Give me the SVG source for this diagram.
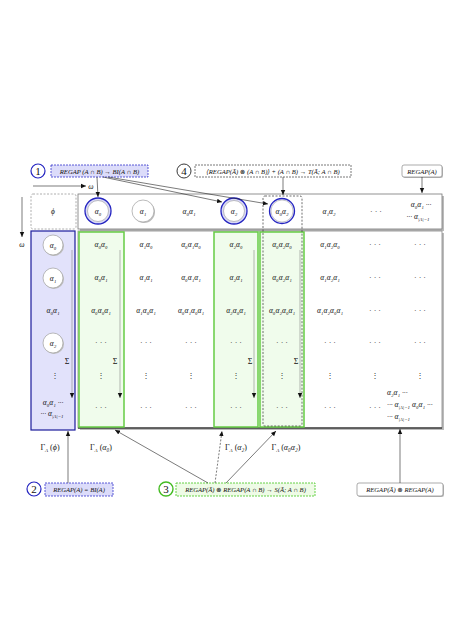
<svg xmlns="http://www.w3.org/2000/svg" width="467" height="638" viewBox="0 0 467 638">
<style>
.m{font-family:"Liberation Serif","DejaVu Serif",serif;font-style:italic;font-size:7.5px;text-anchor:middle;fill:#111}
.s{font-size:5px}
.lbl{font-family:"Liberation Serif","DejaVu Serif",serif;font-style:italic;font-size:6.6px;text-anchor:middle;fill:#111}
.num{font-family:"Liberation Serif","DejaVu Serif",serif;font-size:11px;text-anchor:middle;fill:#111}
.dots{font-family:"Liberation Serif","DejaVu Serif",serif;font-size:8px;text-anchor:middle;fill:#333}
.g{font-family:"Liberation Serif","DejaVu Serif",serif;font-size:8px;text-anchor:middle;fill:#111}
.green{fill:#f0fcec;stroke:#66cc44;stroke-width:1.5}
.bluec{fill:#d9d9f7;stroke:#2424c0;stroke-width:1.3}
.wc{fill:#fff;stroke:#aaa;stroke-width:0.8}
.sh{fill:#bbb}
.ar{stroke:#222;stroke-width:0.6;fill:none;marker-end:url(#ah)}
.arg{stroke:#888;stroke-width:0.6;fill:none;marker-end:url(#ah)}
</style>
<defs>
<marker id="ah" markerWidth="6" markerHeight="6" refX="5" refY="3" orient="auto" markerUnits="userSpaceOnUse">
<path d="M0,0.8 L5,3 L0,5.2 z" fill="#111"/>
</marker>
</defs>
<rect width="467" height="638" fill="#fff"/>

<g id="header">
<rect x="80" y="196" width="364" height="35" class="sh"/>
<rect x="78" y="194" width="364" height="35" fill="#fff" stroke="#777" stroke-width="0.8"/>
</g>
<g id="phi">
<rect x="31" y="194" width="45" height="35" fill="#fff" stroke="#999" stroke-width="0.8" stroke-dasharray="2,1.5" rx="2"/>
<text class="m" x="53" y="214">ϕ</text>
</g>
<g id="grid">
<rect x="80" y="233" width="364" height="197" class="sh"/>
<rect x="78" y="231" width="364" height="197" fill="#fff" stroke="#888" stroke-width="0.8"/>
<line x1="78" y1="428" x2="442" y2="428" stroke="#444" stroke-width="1.4"/>
</g>
<g id="col-phi">
<rect x="31" y="231" width="44" height="199" fill="#e2e2fb" stroke="#1c1c9c" stroke-width="1.2"/>
</g>
<g id="col-a0"><rect x="79" y="232" width="45" height="195" class="green"/></g>
<g id="col-a2"><rect x="214" y="232" width="44" height="195" class="green"/></g>
<g id="col-a0a2"><rect x="260" y="232" width="44" height="195" class="green"/>
<rect x="263" y="196" width="39" height="230" fill="none" stroke="#333" stroke-width="0.7" stroke-dasharray="2,1.5" rx="2"/></g>

<g id="header-cells">
<circle cx="98" cy="211" r="13" class="bluec"/><circle cx="98" cy="211" r="10.5" fill="#fff" stroke="#999" stroke-width="0.6"/>
<text class="m" x="98" y="214">α₀</text>
<circle cx="144" cy="212" r="11" class="sh"/><circle cx="143" cy="211" r="11" class="wc"/>
<text class="m" x="143" y="214">α₁</text>
<text class="m" x="189" y="214">α₀α₁</text>
<circle cx="234" cy="211" r="13" class="bluec"/><circle cx="234" cy="211" r="10.5" fill="#fff" stroke="#999" stroke-width="0.6"/>
<text class="m" x="234" y="214">α₂</text>
<circle cx="282" cy="211" r="12.5" class="bluec"/><circle cx="282" cy="211" r="11" fill="#fff" stroke="#999" stroke-width="0.5"/>
<text class="m" x="282" y="214">α₀α₂</text>
<text class="m" x="329" y="214">α₁α₂</text>
<text class="dots" x="376" y="214">· · ·</text>
<text class="m" x="421" y="207">α₀α₁ ···</text>
<text class="m" x="418" y="219">··· α<tspan class="s" dy="2">|A|−1</tspan></text>
</g>

<g id="phi-cells">
<circle cx="54" cy="246" r="10" class="sh"/><circle cx="53" cy="245" r="10" class="wc"/><text class="m" x="53" y="248">α₀</text>
<circle cx="54" cy="279" r="10" class="sh"/><circle cx="53" cy="278" r="10" class="wc"/><text class="m" x="53" y="281">α₁</text>
<text class="m" x="53" y="313">α₀α₁</text>
<circle cx="54" cy="344" r="10" class="sh"/><circle cx="53" cy="343" r="10" class="wc"/><text class="m" x="53" y="346">α₂</text>
<text class="dots" x="55" y="378" fill="#777">⋮</text>
<text class="m" x="53" y="405">α₀α₁ ···</text>
<text class="m" x="52" y="416">··· α<tspan class="s" dy="2">|A|−1</tspan></text>
</g>

<g id="cells" class="m">
<text x="101" y="247">α₀α₀</text><text x="146" y="247">α₁α₀</text><text x="191" y="247">α₀α₁α₀</text><text x="236" y="247">α₂α₀</text><text x="282" y="247">α₀α₂α₀</text><text x="330" y="247">α₁α₂α₀</text>
<text x="101" y="280">α₀α₁</text><text x="146" y="280">α₁α₁</text><text x="191" y="280">α₀α₁α₁</text><text x="236" y="280">α₂α₁</text><text x="282" y="280">α₀α₂α₁</text><text x="330" y="280">α₁α₂α₁</text>
<text x="101" y="313">α₀α₀α₁</text><text x="146" y="313">α₁α₀α₁</text><text x="191" y="313">α₀α₁α₀α₁</text><text x="236" y="313">α₂α₀α₁</text><text x="282" y="313">α₀α₂α₀α₁</text><text x="330" y="313">α₁α₂α₀α₁</text>
</g>
<g id="dots" class="dots">
<text x="375" y="247">· · ·</text><text x="420" y="247">· · ·</text>
<text x="375" y="280">· · ·</text><text x="420" y="280">· · ·</text>
<text x="375" y="313">· · ·</text><text x="420" y="313">· · ·</text>
<text x="101" y="345">· · ·</text><text x="146" y="345">· · ·</text><text x="191" y="345">· · ·</text><text x="236" y="345">· · ·</text><text x="282" y="345">· · ·</text><text x="330" y="345">· · ·</text><text x="375" y="345">· · ·</text><text x="420" y="345">· · ·</text>
<text x="101" y="378">⋮</text><text x="146" y="378">⋮</text><text x="191" y="378">⋮</text><text x="236" y="378">⋮</text><text x="282" y="378">⋮</text><text x="330" y="378">⋮</text><text x="375" y="378">⋮</text><text x="420" y="378">⋮</text>
<text x="101" y="410">· · ·</text><text x="146" y="410">· · ·</text><text x="191" y="410">· · ·</text><text x="236" y="410">· · ·</text><text x="282" y="410">· · ·</text><text x="330" y="410">· · ·</text><text x="375" y="410">· · ·</text>
</g>
<g id="last-cell" class="m" text-anchor="start">
<text x="387" y="395" text-anchor="start">α₂α₁ ···</text>
<text x="387" y="407" text-anchor="start">··· α<tspan class="s" dy="2">|A|−1</tspan><tspan dy="-2"> α₀α₁ ···</tspan></text>
<text x="387" y="419" text-anchor="start">··· α<tspan class="s" dy="2">|A|−1</tspan></text>
</g>

<g id="sums">
<text class="g" x="67" y="364">Σ</text>
<text class="g" x="115" y="364">Σ</text>
<text class="g" x="250" y="364">Σ</text>
<text class="g" x="296" y="364">Σ</text>
</g>

<g id="label1">
<circle cx="38" cy="171" r="7" fill="#fff" stroke="#2424c0" stroke-width="1.2"/>
<text class="num" x="38" y="175">1</text>
<rect x="51" y="165" width="97" height="12" fill="#dcdcfa" stroke="#3333cc" stroke-width="0.8" stroke-dasharray="2,1"/>
<text class="lbl" x="99.5" y="173.5">REGAP (A ∩ B) → BI(A ∩ B)</text>
</g>
<g id="label4">
<circle cx="184" cy="171" r="7" fill="#fff" stroke="#222" stroke-width="0.9"/>
<text class="num" x="184" y="175">4</text>
<rect x="195" y="165" width="156" height="12" fill="#fff" stroke="#555" stroke-width="0.8" stroke-dasharray="2,1"/>
<text class="lbl" x="273" y="173.5">⟨REGAP(Ā) ⊗ (A ∩ B)⟩ + (A ∩ B) → T(Ā; A ∩ B)</text>
</g>
<g id="labelR">
<rect x="403" y="166" width="40" height="12" rx="2" class="sh"/>
<rect x="402" y="165" width="40" height="12" rx="2" fill="#fff" stroke="#888" stroke-width="0.7"/>
<text class="lbl" x="422" y="173.5">REGAP(A)</text>
</g>
<g id="label2">
<circle cx="34" cy="489" r="7" fill="#fff" stroke="#2424c0" stroke-width="1.2"/>
<text class="num" x="34" y="493">2</text>
<rect x="45" y="483" width="68" height="13" fill="#dcdcfa" stroke="#3333cc" stroke-width="0.8" stroke-dasharray="2,1"/>
<text class="lbl" x="79" y="492">REGAP(A) = BI(A)</text>
</g>
<g id="label3">
<circle cx="166" cy="489" r="7" fill="#fff" stroke="#44bb22" stroke-width="1.4"/>
<text class="num" x="166" y="493">3</text>
<rect x="176" y="483" width="139" height="13" fill="#eefbe6" stroke="#55cc33" stroke-width="0.9" stroke-dasharray="2,1"/>
<text class="lbl" x="245.5" y="492">REGAP(Ā) ⊗ REGAP(A ∩ B) → S(Ā; A ∩ B)</text>
</g>
<g id="labelR2">
<rect x="358" y="484" width="86" height="13" rx="2" class="sh"/>
<rect x="357" y="483" width="86" height="13" rx="2" fill="#fff" stroke="#888" stroke-width="0.7"/>
<text class="lbl" x="400" y="492">REGAP(Ā) ⊗ REGAP(A)</text>
</g>

<g id="gammas" class="g">
<text x="50" y="450">Γ<tspan class="s" font-style="italic" dy="2">A</tspan><tspan dy="-2"> (</tspan><tspan font-style="italic">ϕ</tspan>)</text>
<text x="101" y="450">Γ<tspan class="s" font-style="italic" dy="2">A</tspan><tspan dy="-2"> (</tspan><tspan font-style="italic">α₀</tspan>)</text>
<text x="236" y="450">Γ<tspan class="s" font-style="italic" dy="2">A</tspan><tspan dy="-2"> (</tspan><tspan font-style="italic">α₂</tspan>)</text>
<text x="286" y="450">Γ<tspan class="s" font-style="italic" dy="2">A</tspan><tspan dy="-2"> (</tspan><tspan font-style="italic">α₀α₂</tspan>)</text>
</g>

<g id="connectors">
<line x1="33" y1="186" x2="86" y2="186" class="ar"/>
<text class="m" x="91" y="189">ω</text>
<line x1="22" y1="197" x2="22" y2="237" class="ar"/>
<text class="m" x="22" y="247">ω</text>
<line x1="97" y1="177" x2="98" y2="197" class="ar"/>
<line x1="103" y1="177" x2="222" y2="202" class="ar"/>
<line x1="108" y1="177" x2="268" y2="204" class="ar"/>
<line x1="283" y1="177" x2="283" y2="195" class="ar"/>
<line x1="422" y1="177" x2="422" y2="193" class="ar"/>
<line x1="68" y1="483" x2="68" y2="431" class="ar"/>
<line x1="208" y1="483" x2="115" y2="430" class="ar"/>
<line x1="215" y1="483" x2="222" y2="431" class="ar" stroke-dasharray="2,1.5"/>
<line x1="226" y1="483" x2="276" y2="431" class="ar"/>
<line x1="400" y1="483" x2="400" y2="429" class="ar"/>
<line x1="72" y1="250" x2="72" y2="398" class="arg"/>
<line x1="120" y1="250" x2="120" y2="398" class="arg"/>
<line x1="254" y1="250" x2="254" y2="398" class="arg"/>
<line x1="300" y1="250" x2="300" y2="398" class="arg"/>
</g>
</svg>
